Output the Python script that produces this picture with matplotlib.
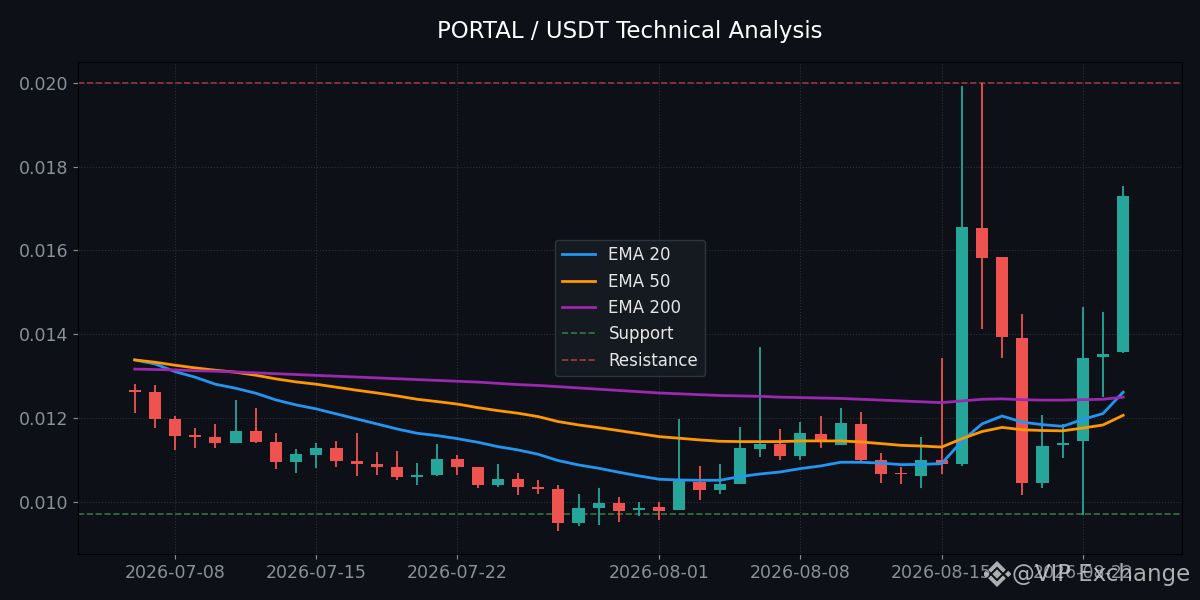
import numpy as np
import pandas as pd
import matplotlib
matplotlib.use("Agg")
import matplotlib.pyplot as plt
import matplotlib.dates as mdates
from matplotlib.patches import Polygon

# daily candles, 2026-07-06 .. 2026-08-24
dates = pd.date_range("2026-07-06", "2026-08-24", freq="D")

opens = [0.01265, 0.012625, 0.011981, 0.01157, 0.011551, 0.011408, 0.011695, 0.011432, 0.010962, 0.011122,
         0.011289, 0.010979, 0.010900, 0.010835, 0.010597, 0.010644, 0.011026, 0.010835, 0.010406, 0.010549,
         0.010358, 0.010310, 0.009499, 0.009857, 0.009976, 0.009820, 0.009881, 0.009809, 0.010477, 0.010286,
         0.010430, 0.011265, 0.011384, 0.011098, 0.011623, 0.011360, 0.011862, 0.011002, 0.010680, 0.010626,
         0.010997, 0.010898, 0.016532, 0.015840, 0.013904, 0.010445, 0.011370, 0.011450, 0.013451, 0.013567]
closes = [0.01263, 0.011988, 0.011575, 0.01156, 0.011408, 0.011695, 0.011432, 0.010962, 0.011146, 0.011289,
          0.010979, 0.010914, 0.010843, 0.010597, 0.010644, 0.011026, 0.010835, 0.010406, 0.010549, 0.010358,
          0.010318, 0.009499, 0.009857, 0.009976, 0.009785, 0.009850, 0.009785, 0.010525, 0.010286, 0.010430,
          0.011289, 0.011384, 0.011098, 0.011647, 0.011432, 0.011885, 0.011002, 0.010668, 0.010660, 0.010997,
          0.010898, 0.016557, 0.015815, 0.013937, 0.010445, 0.011343, 0.011390, 0.013427, 0.013534, 0.017298]
highs = [0.012816, 0.012792, 0.012053, 0.011766, 0.011862, 0.012434, 0.012243, 0.011647, 0.011265, 0.011408,
         0.011456, 0.011647, 0.011193, 0.011217, 0.010931, 0.011384, 0.011122, 0.010835, 0.010907, 0.010692,
         0.010525, 0.010406, 0.010191, 0.010334, 0.010119, 0.010000, 0.010000, 0.011981, 0.010859, 0.010907,
         0.011790, 0.013699, 0.011742, 0.011909, 0.012053, 0.012243, 0.012148, 0.011161, 0.010832, 0.011557,
         0.013427, 0.019934, 0.020000, 0.015840, 0.014473, 0.012084, 0.011862, 0.014662, 0.014539, 0.017537]
lows = [0.012131, 0.011766, 0.011241, 0.011289, 0.011289, 0.011408, 0.011408, 0.010788, 0.010700, 0.010811,
        0.010835, 0.010621, 0.010644, 0.010525, 0.010406, 0.010621, 0.010644, 0.010334, 0.010358, 0.010167,
        0.010191, 0.009308, 0.009435, 0.009451, 0.009523, 0.009666, 0.009570, 0.009809, 0.010048, 0.010191,
        0.010430, 0.011074, 0.011002, 0.011002, 0.011289, 0.011360, 0.010955, 0.010461, 0.010420, 0.010338,
        0.010667, 0.010848, 0.014127, 0.013427, 0.010173, 0.010338, 0.011038, 0.009695, 0.012496, 0.013550]

ema20 = [0.013389, 0.013294, 0.013110, 0.012976, 0.012809, 0.012713, 0.012594, 0.012434, 0.012315, 0.012220,
         0.012100, 0.011981, 0.011862, 0.011742, 0.011639, 0.011582, 0.011510, 0.011425, 0.011320, 0.011241,
         0.011138, 0.010986, 0.010883, 0.010804, 0.010709, 0.010621, 0.010541, 0.010525, 0.010517, 0.010517,
         0.010605, 0.010668, 0.010716, 0.010796, 0.010859, 0.010947, 0.010947, 0.010927, 0.010890, 0.010898,
         0.010914, 0.011450, 0.011862, 0.012051, 0.011903, 0.011845, 0.011804, 0.011969, 0.012109, 0.012619]
ema50 = [0.013389, 0.013334, 0.013262, 0.013198, 0.013143, 0.013095, 0.013024, 0.012936, 0.012864, 0.012809,
         0.012737, 0.012666, 0.012601, 0.012530, 0.012450, 0.012394, 0.012335, 0.012251, 0.012179, 0.012117,
         0.012036, 0.011917, 0.011838, 0.011773, 0.011702, 0.011630, 0.011559, 0.011520, 0.011480, 0.011448,
         0.011440, 0.011440, 0.011440, 0.011456, 0.011456, 0.011456, 0.011432, 0.011392, 0.011351, 0.011334,
         0.011310, 0.011507, 0.011680, 0.011779, 0.011722, 0.011705, 0.011697, 0.011763, 0.011837, 0.012067]
ema200 = [0.01317, 0.01316, 0.01315, 0.01313, 0.01312, 0.01310, 0.01308, 0.01306, 0.01304, 0.01302,
          0.01300, 0.01298, 0.01296, 0.01294, 0.01292, 0.01290, 0.01288, 0.01286, 0.01283, 0.01280,
          0.01278, 0.01275, 0.01272, 0.01269, 0.01266, 0.01263, 0.01260, 0.01258, 0.01256, 0.01254,
          0.01253, 0.01252, 0.01250, 0.01249, 0.01248, 0.01247, 0.01245, 0.01243, 0.01241, 0.01239,
          0.01237, 0.01241, 0.01245, 0.01246, 0.01244, 0.01243, 0.01243, 0.01244, 0.01245, 0.01250]

support = 0.00971
resistance = 0.0200

BG = "#0d1017"
UP = "#26a69a"
DOWN = "#ef5350"
TXT = "#8b9099"
WM = "#d8d8d8"


def main():
    fig = plt.figure(figsize=(12, 6), dpi=100, facecolor=BG)
    ax = fig.add_axes([0.065, 0.0767, 0.92, 0.8203])
    ax.set_facecolor(BG)

    x = mdates.date2num(dates)
    o = np.array(opens)
    c = np.array(closes)
    colors = np.where(c >= o, UP, DOWN)
    bottoms = np.minimum(o, c)
    heights = np.maximum(np.abs(c - o), 0.00003)

    ax.vlines(x, lows, highs, colors=colors, linewidth=1.3, zorder=2)
    ax.bar(x, heights, bottom=bottoms, width=0.6, color=colors, linewidth=0, zorder=3)

    ax.plot(x, ema20, color="#2196f3", lw=2, label="EMA 20", zorder=4)
    ax.plot(x, ema50, color="#ff9800", lw=2, label="EMA 50", zorder=4)
    ax.plot(x, ema200, color="#9c27b0", lw=2, label="EMA 200", zorder=4)
    ax.axhline(support, color="#3b8a3e", ls="--", lw=1.2, alpha=0.85, label="Support", zorder=1)
    ax.axhline(resistance, color="#c0403c", ls="--", lw=1.2, alpha=0.85, label="Resistance", zorder=1)

    ax.set_xlim(mdates.date2num(pd.Timestamp("2026-07-03 04:30")),
                mdates.date2num(pd.Timestamp("2026-08-26 22:00")))
    ax.set_ylim(0.008759, 0.020501)
    ax.set_yticks(np.arange(0.010, 0.0201, 0.002))
    ax.yaxis.set_major_formatter(plt.FormatStrFormatter("%.3f"))
    ax.xaxis.set_major_locator(mdates.DayLocator(bymonthday=[1, 8, 15, 22]))
    ax.xaxis.set_major_formatter(mdates.DateFormatter("%Y-%m-%d"))

    ax.grid(True, color="#3a3f47", ls=":", lw=0.8, alpha=0.7)
    ax.tick_params(colors=TXT, labelsize=12.5)
    for s in ax.spines.values():
        s.set_color("black")

    ax.set_title("PORTAL / USDT Technical Analysis", color="white", fontsize=16.5, pad=17)

    leg = ax.legend(loc="center", fontsize=12, facecolor="#161b22", edgecolor="#30363d",
                    labelcolor="#e6e6e6", framealpha=0.95)
    leg.get_frame().set_linewidth(1.0)

    # watermark: text + diamond logo
    fig.text(0.992, 0.043, "@VIP Exchange", color=WM, alpha=0.8, fontsize=16.5,
             ha="right", va="center")
    lax = fig.add_axes([0.8196, 0.0208, 0.0225, 0.045])
    lax.set_axis_off()
    lax.set_xlim(-2.9, 2.9)
    lax.set_ylim(-2.9, 2.9)
    shapes = [
        [(0, 1), (1, 0), (0, -1), (-1, 0)],
        [(-2.4, 0.7), (-1.7, 0), (-2.4, -0.7), (-3.1, 0)],
        [(2.4, 0.7), (3.1, 0), (2.4, -0.7), (1.7, 0)],
        [(-1.9, 0.9), (0, 2.8), (1.9, 0.9), (1.3, 0.3), (0, 1.6), (-1.3, 0.3)],
        [(-1.9, -0.9), (0, -2.8), (1.9, -0.9), (1.3, -0.3), (0, -1.6), (-1.3, -0.3)],
    ]
    for pts in shapes:
        lax.add_patch(Polygon(pts, closed=True, color=WM, alpha=0.8, lw=0))

    fig.savefig("out.png", dpi=100, facecolor=BG)


if __name__ == "__main__":
    main()
